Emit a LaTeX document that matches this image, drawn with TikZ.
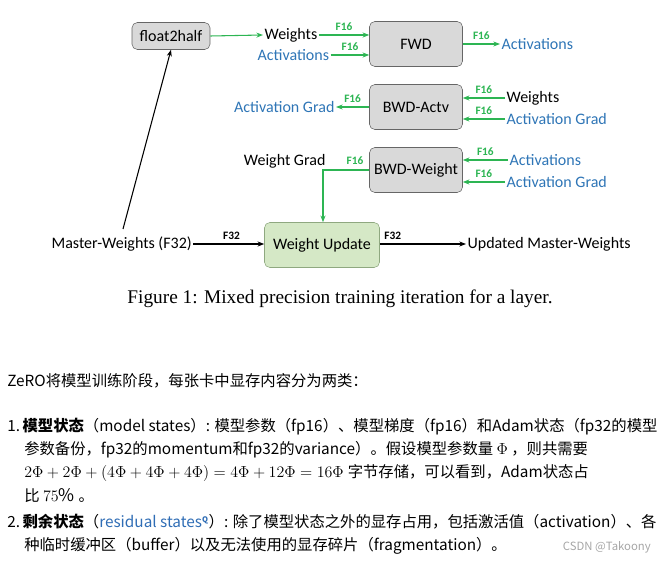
\documentclass[tikz,border=0pt]{standalone}
\usepackage{fontspec}
\setmainfont{Noto Sans CJK SC}
\newfontfamily\diag{Carlito}
\newfontfamily\capf{Liberation Serif}
\usetikzlibrary{arrows.meta}
\definecolor{gr}{HTML}{2DB553}
\definecolor{bl}{HTML}{2E75B6}
\definecolor{lk}{HTML}{2F6DB5}
\definecolor{wuf}{HTML}{D5E8C6}
\definecolor{wud}{HTML}{8FA880}
\tikzset{
 box/.style={draw=gray!80!black,fill=gray!30,rounded corners=4pt,minimum width=93*0.75pt,minimum height=45*0.75pt,font=\diag\fontsize{12}{14}\selectfont},
 lbl/.style={font=\diag\fontsize{12}{14}\selectfont,inner sep=1pt},
 ff/.style={font=\diag\bfseries\fontsize{8.5}{10}\selectfont,text=gr,inner sep=0pt},
 fk/.style={font=\diag\bfseries\fontsize{8.5}{10}\selectfont,inner sep=0pt},
 ga/.style={draw=gr,thick,-{Stealth[length=5pt]}},
 ka/.style={draw=black,thick,-{Stealth[length=5pt]}},
 tx/.style={anchor=west,inner sep=0pt,font=\fontsize{11.5}{14}\selectfont}
}
\begin{document}
\begin{tikzpicture}[x=0.75pt,y=-0.75pt]
\useasboundingbox (0,0) rectangle (665,563);
\node[box,minimum width=78*0.75pt,minimum height=27*0.75pt] (f2h) at (171,36) {float2half};
\node[box] (fwd) at (416,44) {FWD};
\node[box] (ba) at (416,107) {BWD-Actv};
\node[box] (bw) at (416,170) {BWD-Weight};
\node[box,fill=wuf,draw=wud,minimum width=115*0.75pt] (wu) at (322,245) {Weight Update};
% FWD
\node[lbl,anchor=west] (w1) at (263,35) {Weights};
\node[lbl,text=bl,anchor=west] (a1) at (256,55) {Activations};
\draw[ga] (f2h.east) -- (w1.west);
\draw[ga] (w1.east) -- (fwd.west|-w1.east) node[ff,midway,above=3pt]{F16};
\draw[ga] (a1.east) -- (fwd.west|-a1.east) node[ff,midway,above=3pt]{F16};
\node[lbl,text=bl,anchor=west] (a2) at (500,44) {Activations};
\draw[ga] (fwd.east) -- (a2.west) node[ff,midway,above=3pt]{F16};
% BWD-Actv
\node[lbl,text=bl,anchor=east] (ag1) at (336,107) {Activation Grad};
\draw[ga] (ba.west) -- (ag1.east) node[ff,midway,above=3pt]{F16};
\node[lbl,anchor=west] (w2) at (505,98) {Weights};
\node[lbl,text=bl,anchor=west] (ag2) at (505,119) {Activation Grad};
\draw[ga] (w2.west) -- (ba.east|-w2.west) node[ff,midway,above=3pt]{F16};
\draw[ga] (ag2.west) -- (ba.east|-ag2.west) node[ff,midway,above=3pt]{F16};
% BWD-Weight
\node[lbl,anchor=east] (wg) at (327,161) {Weight Grad};
\node[ff] at (355,161) {F16};
\draw[ga] (bw.west) -- (323,170) -- (wu.north-|323,0);
\node[lbl,text=bl,anchor=west] (a3) at (508,160) {Activations};
\node[lbl,text=bl,anchor=west] (ag3) at (505,182) {Activation Grad};
\draw[ga] (a3.west) -- (bw.east|-a3.west) node[ff,midway,above=3pt]{F16};
\draw[ga] (ag3.west) -- (bw.east|-ag3.west) node[ff,midway,above=3pt]{F16};
% master
\node[lbl,anchor=west] (mw) at (50,244) {Master-Weights (F32)};
\coordinate (ms) at (123,229);
\draw[ka] (ms) -- (f2h.south);
\draw[ka] (mw.east) -- (wu.west|-mw.east) node[fk,midway,above=3pt,xshift=2pt]{F32};
\node[lbl,anchor=west] (umw) at (466,244) {Updated Master-Weights};
\draw[ka] (wu.east|-umw.west) -- (umw.west) node[fk,pos=0.15,above=3pt]{F32};
\node[font=\capf\fontsize{14.5}{16}\selectfont] (cap) at (340,299) {Figure 1: Mixed precision training iteration for a layer.};
% text
\node[tx] at (7,381) {ZeRO将模型训练阶段，每张卡中显存内容分为两类：};
\node[tx] at (7,427) {1.\,\textbf{模型状态}（model states）: 模型参数（fp16）、模型梯度（fp16）和Adam状态（fp32的模型};
\node[tx] at (24,450) {参数备份，fp32的momentum和fp32的variance）。假设模型参数量 $\Phi$ ，则共需要};
\node[tx] at (24,473) {\fontsize{13}{15}\selectfont$2\Phi+2\Phi+(4\Phi+4\Phi+4\Phi)=4\Phi+12\Phi=16\Phi$ \fontsize{11.5}{14}\selectfont 字节存储，可以看到，Adam状态占};
\node[tx] at (24,496) {比 \fontsize{13}{15}\selectfont$75\%$ \fontsize{11.5}{14}\selectfont。};
\node[tx] at (7,522) {2.\,\textbf{剩余状态}（\textcolor{lk}{residual states}$^{\textcolor{lk}{\scriptscriptstyle\mathbf Q}}$）: 除了模型状态之外的显存占用，包括激活值（activation）、各};
\node[tx] at (24,546) {种临时缓冲区（buffer）以及无法使用的显存碎片（fragmentation）。};
\node[anchor=east,inner sep=0pt,text=gray!70,font=\fontsize{8.5}{10}\selectfont] at (651,547) {CSDN @Takoony};
\end{tikzpicture}
\end{document}
